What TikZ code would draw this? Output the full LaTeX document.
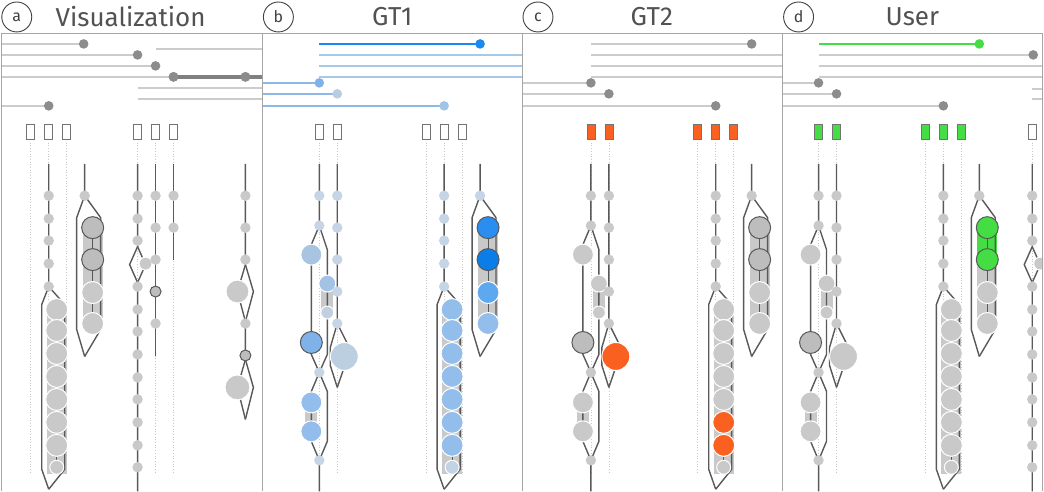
\documentclass[tikz,border=0pt]{standalone}
\usepackage{fontspec}
\setmainfont{Fira Sans}
\definecolor{G}{HTML}{C9C9C9}\definecolor{GO}{HTML}{BDBDBD}
\definecolor{OR}{HTML}{FA6020}\definecolor{GR}{HTML}{44DD44}
\definecolor{BDot}{HTML}{C5D5E5}\definecolor{BA}{HTML}{A9C4E0}\definecolor{BB}{HTML}{A4C2E4}
\definecolor{BC}{HTML}{C0D0E0}\definecolor{BD}{HTML}{7FB2E8}\definecolor{BE}{HTML}{BCCFE0}
\definecolor{BF}{HTML}{92BDEC}\definecolor{BS}{HTML}{93BDEA}
\definecolor{BSL}{HTML}{C3D3E3}\definecolor{BMa}{HTML}{2A8DF0}\definecolor{BMb}{HTML}{0A7DE8}
\definecolor{BMc}{HTML}{5EA8F0}\definecolor{BL}{HTML}{1A8AF0}\definecolor{BLL}{HTML}{A8C8E8}
\definecolor{BLM}{HTML}{8CB9E8}\definecolor{BP}{HTML}{B8CDE2}\definecolor{BQ}{HTML}{A0C4E8}
\newcommand\sd[2]{\fill[cDot] (#1,#2) circle (5.2);}
\newcommand\bb[4]{\filldraw[fill=#4,draw=white,line width=1pt] (#1,#2) circle (#3);}
\newcommand\ob[4]{\filldraw[fill=#4,draw=black!65,line width=1pt] (#1,#2) circle (#3);}
\newcommand\grayset{%
 \colorlet{cDot}{G}\colorlet{cA}{G}\colorlet{cB}{G}\colorlet{cC}{G}\colorlet{cD}{GO}%
 \colorlet{cE}{G}\colorlet{cF}{G}\colorlet{cS}{G}\colorlet{cSO}{G}\colorlet{cSL}{G}%
 \colorlet{cMa}{GO}\colorlet{cMb}{GO}\colorlet{cMc}{G}\colorlet{cMd}{G}\colorlet{cBT}{G}\colorlet{cBox}{white}}
\grayset
\newcommand\worldscene{%
 \foreach \x in {57,75,164,182,200,271,289,307} {\draw[dotl] (\x,143)--(\x,475);}
 \foreach \x in {57,75,164,182,200} {\node[bx,fill=cBox] at (\x,132) {};}
 \foreach \x in {271,289,307} {\node[bx,fill=white] at (\x,132) {};}
 \fill[G] (43,403) rectangle (55,432);
 \fill[G] (59,284) rectangle (71,313);
 \draw[edge] (57,164)--(57,226)--(49,245)--(49,355)--(57,373)--(49,392)--(49,442)--(57,461)--(57,492);
 \draw[edge] (57,226)--(65,250)--(65,355)--(57,373)--(65,392)--(65,442)--(57,461);
 \sd{57}{196}\sd{57}{226}\sd{57}{373}\sd{57}{461}
 \bb{49}{255}{10.5}{cA}\bb{65}{284}{8.5}{cB}\bb{65}{313}{6.5}{cC}\ob{49}{343}{11}{cD}
 \bb{49}{403}{10.5}{cF}\bb{49}{432}{10.5}{cF}
 \draw[edge] (75,164)--(75,324)--(68,348)--(68,366)--(75,388);
 \draw[edge] (75,324)--(88,350)--(75,388);
 \foreach \y in {196,228,260,292,324} {\sd{75}{\y}}
 \bb{82}{357}{14}{cE}
 \fill[G] (180,305) rectangle (200,475);
 \draw[edge] (182,164)--(182,287)--(175,305)--(175,470)--(182,490);
 \draw[edge] (182,287)--(198,305)--(198,470)--(182,490);
 \draw[edge,line width=1pt] (190,310)--(190,468);
 \foreach \y in {196,219,241,264,287} {\sd{182}{\y}}
 \foreach \y in {310,331,354,377,400} {\bb{190}{\y}{11}{cS}}
 \bb{190}{423}{11}{cSO}\bb{190}{446}{11}{cSO}\bb{190}{468}{7}{cSL}
 \fill[G] (216,244) rectangle (236,324);
 \fill[cBT] (216,228) rectangle (236,260);
 \draw[edge] (218,164)--(218,196)--(210,218)--(210,330)--(218,357);
 \draw[edge] (218,196)--(234,218)--(234,330)--(218,357);
 \draw[edge,line width=1pt] (226,228)--(226,324);
 \sd{218}{196}
 \ob{226}{228}{11}{cMa}\ob{226}{260}{11}{cMb}\bb{226}{293}{11}{cMc}\bb{226}{324}{11}{cMd}
 \draw[edge] (271,164)--(271,247)--(263,265)--(271,283)--(271,492);
 \draw[edge] (271,247)--(279,265)--(271,283);
 \foreach \y in {196,219,241,287,310,332,355,378,400,423,446,468} {\sd{271}{\y}}
 \bb{279}{264}{6.5}{cDot}
 \draw[edge] (289,164)--(289,357);
 \foreach \y in {196,228,260,324} {\sd{289}{\y}}
 \ob{289}{292}{5.5}{GO}
 \draw[edge] (307,164)--(307,260);
 \sd{307}{196}\sd{307}{228}
 \draw[edge] (379,164)--(379,265)--(387,292)--(379,322)--(379,360)--(387,388)--(379,420);
 \draw[edge] (379,265)--(371,292)--(379,322);
 \draw[edge] (379,360)--(371,388)--(379,420);
 \foreach \y in {196,228,260,324} {\sd{379}{\y}}
 \bb{371}{292}{11.5}{G}\ob{379}{356}{5.5}{GO}\bb{371}{388}{12.5}{G}
}
\begin{document}
\begin{tikzpicture}[x=1pt,y=-1pt,
 edge/.style={draw=black!65,line width=1.4pt},
 dotl/.style={draw=black!22,dotted,line width=0.7pt},
 bx/.style={draw=black!55,line width=0.6pt,minimum width=8pt,minimum height=16pt,inner sep=0pt},
 tl/.style={line width=1.6pt,draw=black!20},
 td/.style={fill=black!45}]
\fill[white] (0,0) rectangle (1044,492);
\begin{scope}
 \clip (0,34) rectangle (262,492);
 \begin{scope}[xshift=-134pt]\worldscene\end{scope}
\end{scope}
\begin{scope}
 \colorlet{cDot}{BDot}\colorlet{cA}{BA}\colorlet{cB}{BB}\colorlet{cC}{BC}\colorlet{cD}{BD}
 \colorlet{cE}{BE}\colorlet{cF}{BF}\colorlet{cS}{BS}\colorlet{cSO}{BS}\colorlet{cSL}{BSL}
 \colorlet{cMa}{BMa}\colorlet{cMb}{BMb}\colorlet{cMc}{BMc}\colorlet{cMd}{BS}
 \clip (262,34) rectangle (522,492);
 \begin{scope}[xshift=262pt]\worldscene\end{scope}
\end{scope}
\begin{scope}
 \colorlet{cE}{OR}\colorlet{cSO}{OR}\colorlet{cBox}{OR}
 \clip (522,34) rectangle (783,492);
 \begin{scope}[xshift=534pt]\worldscene\end{scope}
\end{scope}
\begin{scope}
 \colorlet{cMa}{GR}\colorlet{cMb}{GR}\colorlet{cBT}{GR}\colorlet{cBox}{GR}
 \clip (783,34) rectangle (1044,492);
 \begin{scope}[xshift=762pt]\worldscene\end{scope}
\end{scope}
% top lines a
\draw[tl] (0,44)--(83,44); \fill[td] (83,44) circle (4.8);
\draw[tl] (155,49)--(262,49);
\draw[tl] (0,55)--(137,55); \fill[td] (137,55) circle (4.8);
\draw[tl] (0,66)--(155,66); \fill[td] (155,66) circle (4.8);
\draw[tl] (0,77)--(173,77); \draw[line width=4pt,draw=black!50] (173,77)--(262,77);
\fill[td] (173,77) circle (5); \fill[td] (245,77) circle (5);
\draw[tl] (137,88)--(262,88); \draw[tl] (137,99)--(262,99);
\draw[tl] (0,106)--(48,106); \fill[td] (48,106) circle (4.8);
% top lines b
\begin{scope}[xshift=262pt]
\draw[line width=2pt,draw=BL] (57,44)--(218,44); \fill[BL] (218,44) circle (4.8);
\foreach \y in {55,66,77} {\draw[tl,draw=BLL] (57,\y)--(261,\y);}
\draw[tl,draw=BLM] (0,83)--(57,83); \fill[BD] (57,83) circle (4.8);
\draw[tl,draw=BLM] (0,94)--(75,94); \fill[BP] (75,94) circle (4.8);
\draw[tl,draw=BLM] (0,106)--(182,106); \fill[BQ] (182,106) circle (4.8);
\end{scope}
% top lines c
\begin{scope}[xshift=522pt]
\draw[tl] (69,44)--(230,44); \fill[td] (230,44) circle (4.8);
\foreach \y in {55,66,77} {\draw[tl] (69,\y)--(261,\y);}
\draw[tl] (0,83)--(69,83); \fill[td] (69,83) circle (4.8);
\draw[tl] (0,94)--(87,94); \fill[td] (87,94) circle (4.8);
\draw[tl] (0,106)--(194,106); \fill[td] (194,106) circle (4.8);
\end{scope}
% top lines d
\begin{scope}[xshift=783pt]
\draw[line width=2pt,draw=GR] (36,44)--(197,44); \fill[GR] (197,44) circle (4.8);
\draw[tl] (36,55)--(251,55); \fill[td] (251,55) circle (4.8);
\draw[tl] (36,66)--(261,66); \draw[tl] (36,77)--(261,77);
\draw[tl] (0,83)--(36,83); \fill[td] (36,83) circle (4.8);
\draw[tl] (0,94)--(54,94); \fill[td] (54,94) circle (4.8);
\draw[tl] (0,106)--(161,106); \fill[td] (161,106) circle (4.8);
\draw[tl] (250,89)--(261,89); \draw[tl] (250,99)--(261,99);
\end{scope}
\draw[black!35,line width=1pt] (0,34)--(1044,34);
\foreach \x in {0.5,262,522,783,1043.5} {\draw[black!35,line width=1pt] (\x,34)--(\x,492);}
\foreach \x/\l/\t in {0/a/Visualization,262/b/GT1,522/c/GT2,783/d/User}{
 \node[circle,draw=black!75,line width=0.9pt,minimum size=30pt,inner sep=0pt,font=\fontsize{16}{16}\selectfont,text=black!75] (lab\l) at (\x+16,17) {\l};
 \node[font=\fontsize{26}{26}\selectfont,text=black!68] (tit\l) at (\x+130,17) {\t};}
\end{tikzpicture}
\end{document}
